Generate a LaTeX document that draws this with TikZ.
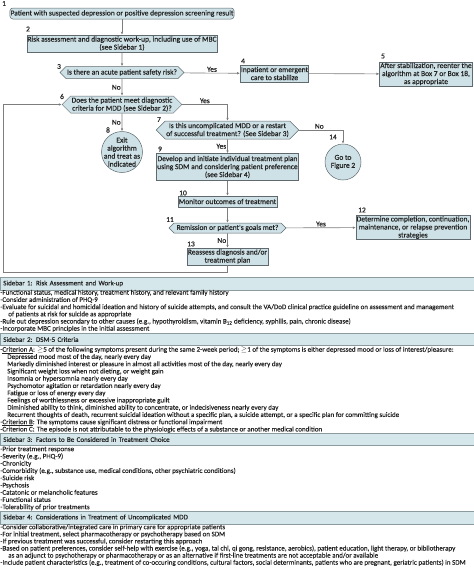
\documentclass[tikz,border=0pt]{standalone}
\usepackage{fontspec}
\setmainfont{Carlito}
\newfontfamily\flowfont{Carlito}[FakeBold=0.4]
\newfontfamily\sidefont{Carlito}[FakeBold=0.2]
\usetikzlibrary{shapes.symbols,arrows.meta,positioning}

\definecolor{boxfill}{RGB}{206,225,230}
\definecolor{boxline}{RGB}{95,105,110}
\definecolor{linegray}{RGB}{125,125,125}
\definecolor{barfill}{RGB}{213,231,235}
\definecolor{barline}{RGB}{140,155,160}
\definecolor{txt}{RGB}{35,35,35}
\def\fs{\flowfont\fontsize{7.5}{8}\selectfont}
\def\ss{\sidefont\fontsize{7.0}{7.25}\selectfont}

\begin{document}
\begin{tikzpicture}[x=1pt,y=-1pt,->,>={Latex[length=3pt,width=2.6pt]},draw=linegray,
    line width=0.6pt,font=\fs,text=txt]
    \tikzstyle{box}=[draw=boxline,fill=boxfill,align=center,inner sep=0.6pt,line width=0.5pt]
    \tikzstyle{decision}=[box,signal,signal to=east and west,inner xsep=1pt]
    \tikzstyle{term}=[box,circle,inner sep=0pt]
    \tikzstyle{num}=[inner sep=0pt]
    \tikzstyle{lab}=[inner sep=1pt]
    \tikzstyle{bar}=[draw=barline,fill=barfill,anchor=west,text width=468pt,inner xsep=3pt,
        minimum height=10.5pt,align=left,font=\ss]
    \tikzstyle{item}=[anchor=west,inner sep=0pt,text height=4.8pt,text depth=1.4pt,font=\ss]

    \useasboundingbox (0,0) rectangle (474,571);

    % flowchart
    \node[box,rounded corners=3pt,minimum width=220pt,minimum height=11pt] (b1) at (122,13.5)
        {Patient with suspected depression or positive depression screening result};
    \node[num] (n1) at (4,3.5) {1};
    \node[box,minimum width=189pt,minimum height=17pt] (b2) at (122,43.5)
        {Risk assessment and diagnostic work-up, including use of MBC\\(see Sidebar 1)};
    \node[num] (n2) at (28,29) {2};
    \node[decision,minimum width=122pt,minimum height=12pt] (d3) at (122,72.5)
        {Is there an acute patient safety risk?};
    \node[num] (n3) at (59,66.5) {3};
    \node[box,minimum width=65pt,minimum height=17pt] (b4) at (274.5,73.5)
        {Inpatient or emergent\\care to stabilize};
    \node[num] (n4) at (243,61) {4};
    \node[box,minimum width=90pt,minimum height=24pt] (b5) at (426,74)
        {After stabilization, reenter the\\algorithm at Box 7 or Box 18,\\as appropriate};
    \node[num] (n5) at (383,56) {5};
    \node[decision,minimum width=115pt,minimum height=17pt] (d6) at (122,104.5)
        {Does the patient meet diagnostic\\criteria for MDD (see Sidebar 2)?};
    \node[num] (n6) at (62,96.5) {6};
    \node[decision,minimum width=138pt,minimum height=18pt] (d7) at (227.5,130)
        {Is this uncomplicated MDD or a restart\\of successful treatment? (See Sidebar 3)};
    \node[num] (n7) at (159,119.5) {7};
    \node[term,minimum size=41pt,inner sep=-5pt] (c8) at (122,152) {Exit\\algorithm\\and treat as\\indicated};
    \node[num] (n8) at (108,130) {8};
    \node[box,minimum width=139pt,minimum height=27pt] (b9) at (227.5,167)
        {Develop and initiate individual treatment plan\\using SDM and considering patient preference\\(see Sidebar 4)};
    \node[num] (n9) at (160,149) {9};
    \node[box,minimum width=97pt,minimum height=11pt] (b10) at (227.5,201.5)
        {Monitor outcomes of treatment};
    \node[num] (n10) at (183,193) {10};
    \node[decision,minimum width=117pt,minimum height=10pt] (d11) at (227.5,228)
        {Remission or patient's goals met?};
    \node[num] (n11) at (170,219.5) {11};
    \node[box,minimum width=110pt,minimum height=23pt] (b12) at (413,227.5)
        {Determine completion, continuation,\\maintenance, or relapse prevention\\strategies};
    \node[num] (n12) at (362,210) {12};
    \node[box,minimum width=81pt,minimum height=17pt] (b13) at (227.5,256.5)
        {Reassess diagnosis and/or\\treatment plan};
    \node[num] (n13) at (191,244) {13};
    \node[term,minimum size=36pt] (c14) at (343,162) {Go to\\Figure 2};
    \node[num] (n14) at (333,137) {14};

    \draw (b1) -- (b2);
    \draw (b2) -- (d3);
    \draw (d3) -- node[lab,above] {Yes} (b4);
    \draw (b4) -- (b5);
    \draw (d3) -- node[lab,left] {No} (d6);
    \draw (d6) -- node[lab,left] {No} (c8);
    \draw (d6.east) -| node[lab,above,pos=0.25] {Yes} (d7.north);
    \draw (d7.east) -| node[lab,above,pos=0.23] {No} (c14.north);
    \draw (d7) -- node[lab,left] {Yes} (b9);
    \draw (b9) -- (b10);
    \draw (b10) -- (d11);
    \draw (d11) -- node[lab,above] {Yes} (b12);
    \draw (d11) -- node[lab,left] {No} (b13);
    \coordinate (loop) at (3,272);
    \draw (b13.south) |- (loop) |- (d6.west);

    % sidebars
    \node[bar] (s1) at (0,283.5) {Sidebar 1: Risk Assessment and Work-up};
    \foreach \txt [count=\i] in {
        {-Functional status, medical history, treatment history, and relevant family history},
        {-Consider administration of PHQ-9},
        {-Evaluate for suicidal and homicidal ideation and history of suicide attempts, and consult the VA/DoD clinical practice guideline on assessment and management},
        {\hspace*{8pt}of patients at risk for suicide as appropriate},
        {-Rule out depression secondary to other causes (e.g., hypothyroidism, vitamin B\textsubscript{12} deficiency, syphilis, pain, chronic disease)},
        {-Incorporate MBC principles in the initial assessment}}
        \node[item] (s1-\i) at (0,{293+7.2*(\i-1)}) {\txt};

    \node[bar] (s2) at (0,339.5) {Sidebar 2: DSM-5 Criteria};
    \foreach \txt [count=\i] in {
        {-\underline{Criterion A}: \(\geq\)5 of the following symptoms present during the same 2-week period; \(\geq\)1 of the symptoms is either depressed mood or loss of interest/pleasure:},
        {\hspace*{7pt}Depressed mood most of the day, nearly every day},
        {\hspace*{7pt}Markedly diminished interest or pleasure in almost all activities most of the day, nearly every day},
        {\hspace*{7pt}Significant weight loss when not dieting, or weight gain},
        {\hspace*{7pt}Insomnia or hypersomnia nearly every day},
        {\hspace*{7pt}Psychomotor agitation or retardation nearly every day},
        {\hspace*{7pt}Fatigue or loss of energy every day},
        {\hspace*{7pt}Feelings of worthlessness or excessive inappropriate guilt},
        {\hspace*{7pt}Diminished ability to think, diminished ability to concentrate, or indecisiveness nearly every day},
        {\hspace*{7pt}Recurrent thoughts of death, recurrent suicidal ideation without a specific plan, a suicide attempt, or a specific plan for committing suicide},
        {-\underline{Criterion B}: The symptoms cause significant distress or functional impairment},
        {-\underline{Criterion C}: The episode is not attributable to the physiologic effects of a substance or another medical condition}}
        \node[item] (s2-\i) at (0,{350+7.25*(\i-1)}) {\txt};

    \node[bar] (s3) at (0,439.5) {Sidebar 3: Factors to Be Considered in Treatment Choice};
    \foreach \txt [count=\i] in {
        {-Prior treatment response},
        {-Severity (e.g., PHQ-9)},
        {-Chronicity},
        {-Comorbidity (e.g., substance use, medical conditions, other psychiatric conditions)},
        {-Suicide risk},
        {-Psychosis},
        {-Catatonic or melancholic features},
        {-Functional status},
        {-Tolerability of prior treatments}}
        \node[item] (s3-\i) at (0,{449.5+7.25*(\i-1)}) {\txt};

    \node[bar] (s4) at (0,517.5) {Sidebar 4: Considerations in Treatment of Uncomplicated MDD};
    \foreach \txt [count=\i] in {
        {-Consider collaborative/integrated care in primary care for appropriate patients},
        {-For initial treatment, select pharmacotherapy or psychotherapy based on SDM},
        {-If previous treatment was successful, consider restarting this approach},
        {-Based on patient preferences, consider self-help with exercise (e.g., yoga, tai chi, qi gong, resistance, aerobics), patient education, light therapy, or bibliotherapy},
        {\hspace*{8pt}as an adjunct to psychotherapy or pharmacotherapy or as an alternative if first-line treatments are not acceptable and/or available},
        {-Include patient characteristics (e.g., treatment of co-occuring conditions, cultural factors, social determinants, patients who are pregnant, geriatric patients) in SDM}}
        \node[item] (s4-\i) at (0,{527.5+7.1*(\i-1)}) {\txt};
\end{tikzpicture}
\end{document}
